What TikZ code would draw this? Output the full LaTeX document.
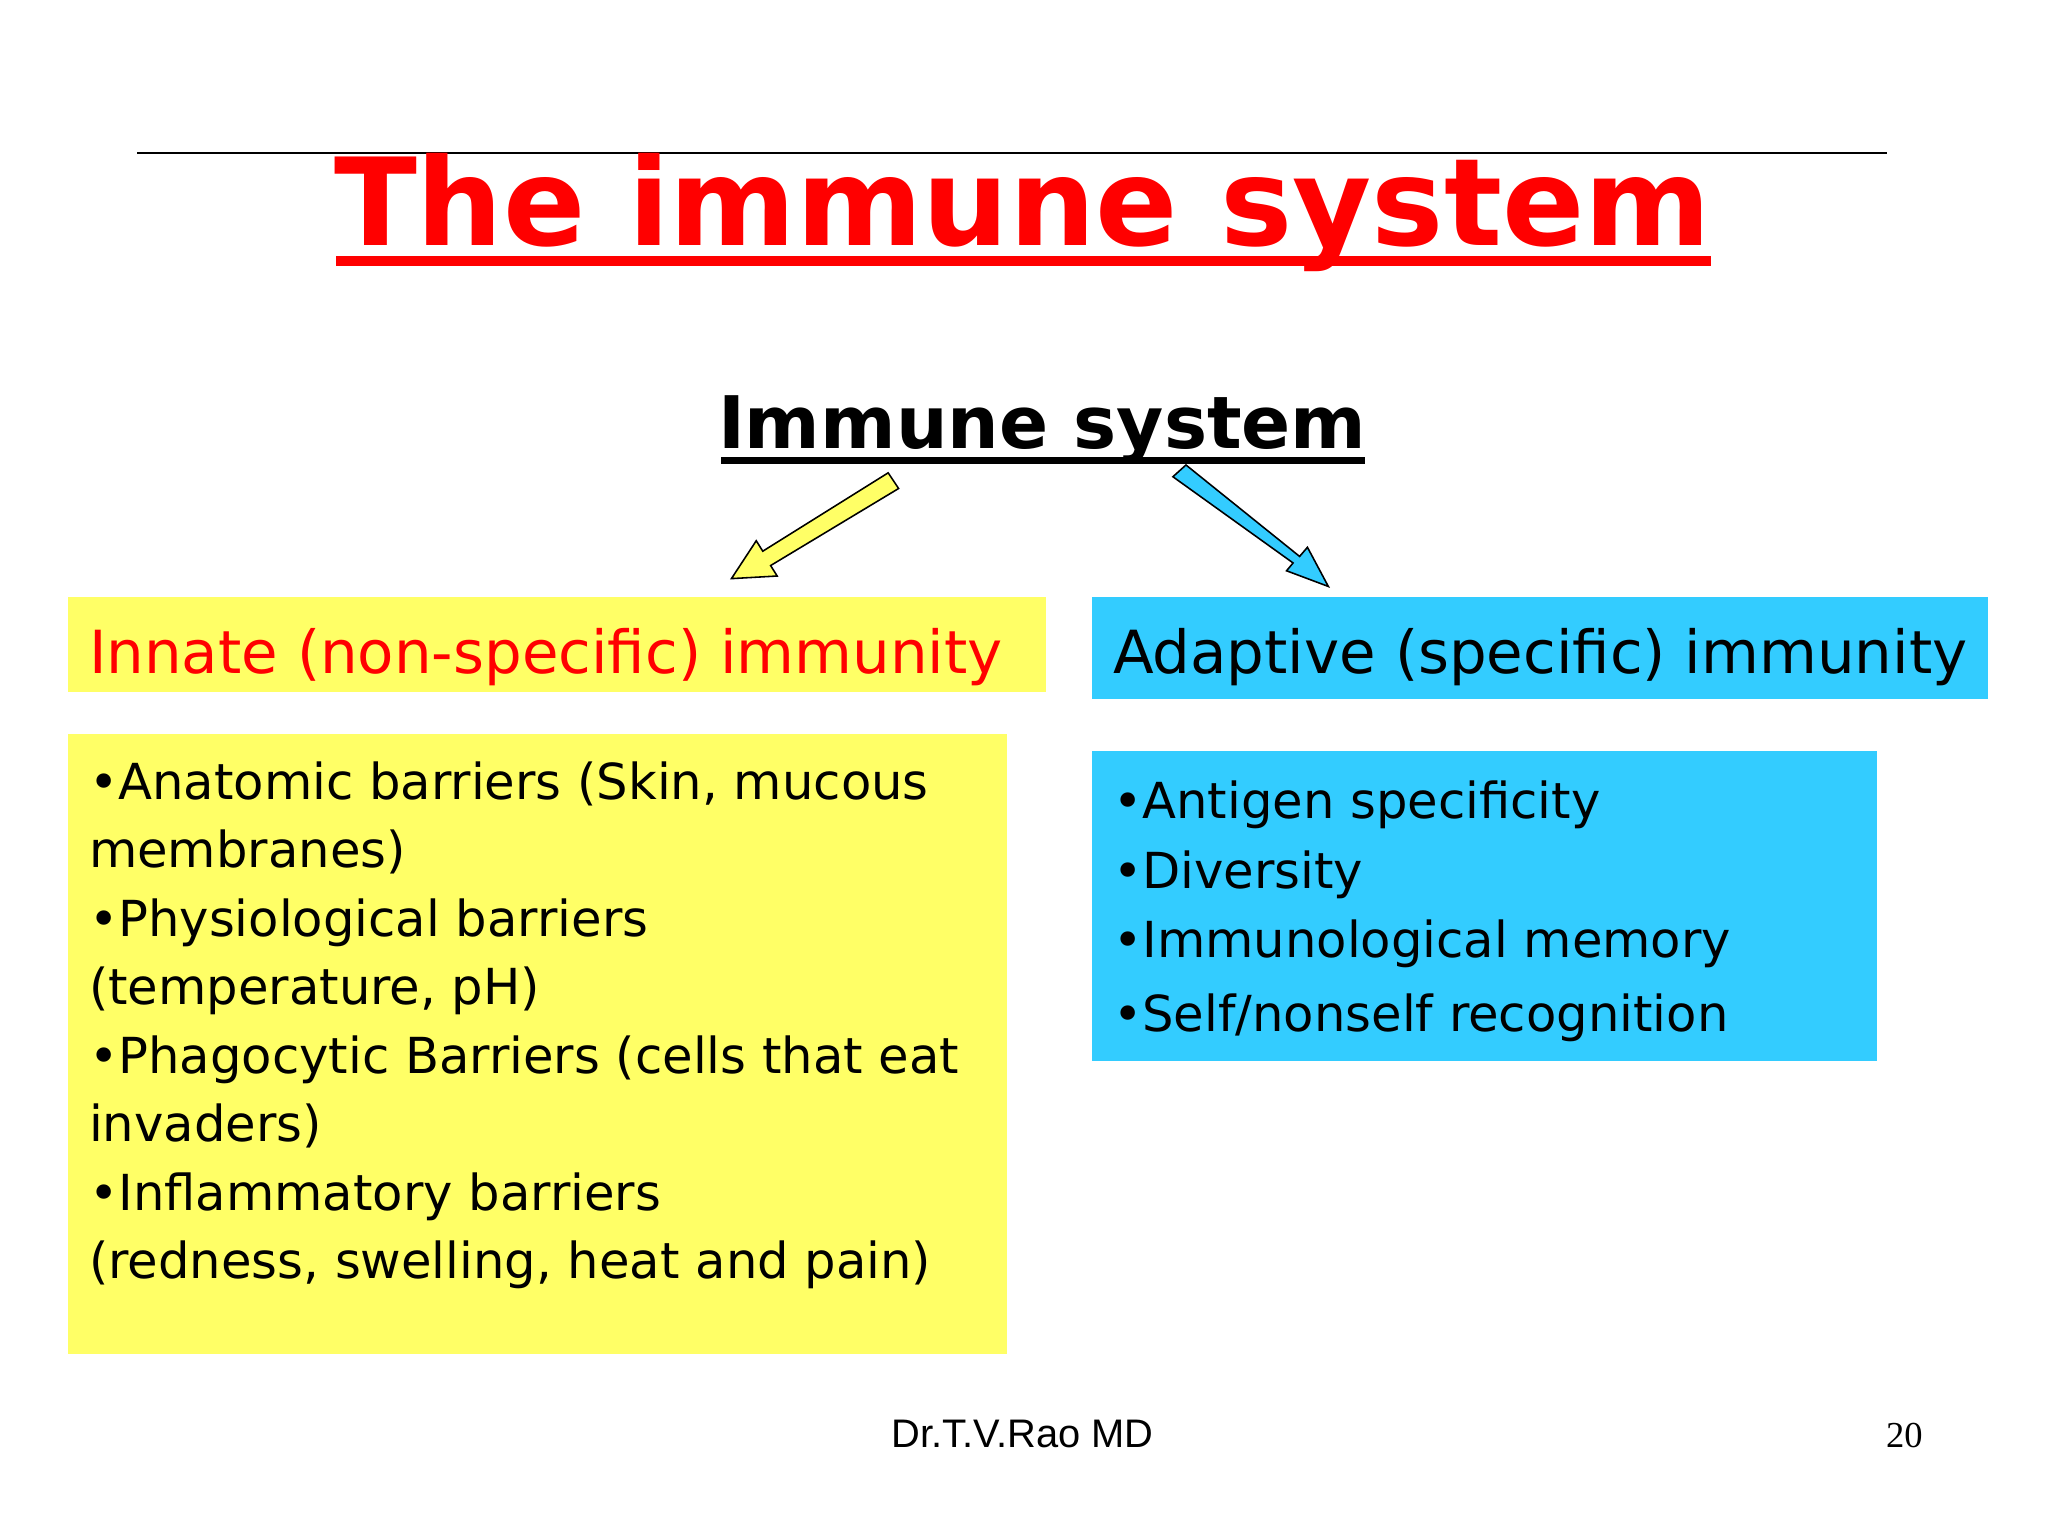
\documentclass[tikz,border=0pt]{standalone}
\usepackage{fontspec}
\setmainfont{DejaVu Sans}
\usetikzlibrary{shapes.arrows}
\definecolor{yel}{HTML}{FFFF66}
\definecolor{blu}{HTML}{33CCFF}
\tikzset{
 ln/.style={anchor=base west,inner sep=0,font=\fontsize{38}{40}\selectfont},
 hd/.style={anchor=base west,inner sep=0,font=\fontsize{45.5}{50}\selectfont},
}
\begin{document}
\begin{tikzpicture}[x=1pt,y=-1pt]
\useasboundingbox (0,0) rectangle (1568,1176);
\fill[white] (0,0) rectangle (1568,1176);
\draw[line width=1.5] (105,117) -- (1445,117);
\node[anchor=base,inner sep=0,text=red,font=\bfseries\fontsize{93}{100}\selectfont] (title) at (783,188) {The immune system};
\fill[red] (257,196) rectangle (1310,204);
\node[anchor=base,inner sep=0,font=\bfseries\fontsize{55.5}{60}\selectfont] (sys) at (798,343) {Immune system};
\fill (552,350) rectangle (1045,355);
% arrows
\draw[fill=yel,line width=1.2] (680,362) -- (688,374) -- (590,433) -- (595,441) -- (560,443) -- (579,414) -- (584,422) -- cycle;
\draw[fill=blu,line width=1.2] (898,365) -- (908,356) -- (995,426) -- (1001,419) -- (1017,449) -- (985,437) -- (990,431) -- cycle;
% boxes
\fill[yel] (52,457) rectangle (801,530);
\fill[blu] (836,457) rectangle (1522,535);
\fill[yel] (52,562) rectangle (771,1037);
\fill[blu] (836,575) rectangle (1437,812);
\node[hd,text=red] (innate) at (68,516) {Innate (non-specific) immunity};
\node[hd] (adapt) at (852,516) {Adaptive (specific) immunity};
\node[ln] (a1) at (68,612) {•Anatomic barriers (Skin, mucous};
\node[ln] (a2) at (68,664) {membranes)};
\node[ln] (a3) at (68,717) {•Physiological barriers};
\node[ln] (a4) at (68,769) {(temperature, pH)};
\node[ln] (a5) at (68,822) {•Phagocytic Barriers (cells that eat};
\node[ln] (a6) at (68,874) {invaders)};
\node[ln] (a7) at (68,927) {•Inflammatory barriers};
\node[ln] (a8) at (68,979) {(redness, swelling, heat and pain)};
\node[ln] (b1) at (852,627) {•Antigen specificity};
\node[ln] (b2) at (852,680) {•Diversity};
\node[ln] (b3) at (852,733) {•Immunological memory};
\node[ln] (b4) at (852,790) {•Self/nonself recognition};
\node[anchor=base,inner sep=0,font=\fontspec{Liberation Sans}\fontsize{30.5}{32}\selectfont] (ft) at (783,1108) {Dr.T.V.Rao MD};
\node[anchor=base,inner sep=0,font=\fontspec{Liberation Serif}\fontsize{28}{30}\selectfont] (pg) at (1458,1108) {20};
\end{tikzpicture}
\end{document}
